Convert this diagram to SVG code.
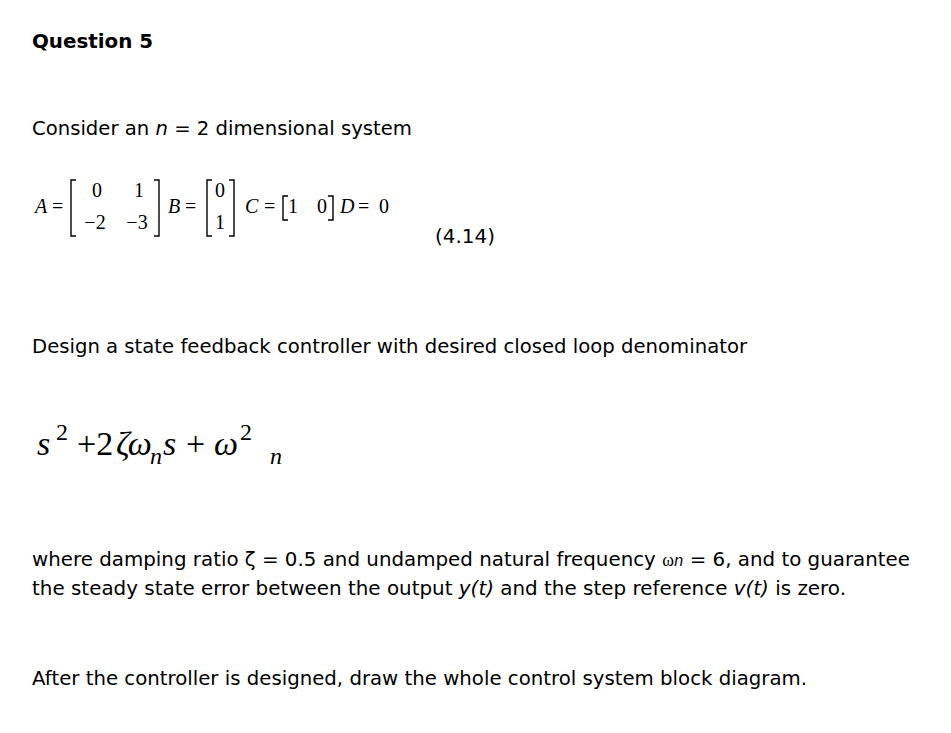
<svg xmlns="http://www.w3.org/2000/svg" width="951" height="733" viewBox="0 0 951 733">
<style>
.t{font-family:"DejaVu Sans","Liberation Sans",sans-serif;font-size:20px;fill:#000}
.m{font-family:"Liberation Serif",serif;font-size:20px;fill:#000}
.f{font-family:"Liberation Serif",serif;font-size:34px;fill:#000}
.s{font-family:"Liberation Serif",serif;font-size:24px;fill:#000}
.i{font-style:italic}
.br{fill:none;stroke:#000;stroke-width:1.4}
</style>
<rect width="951" height="733" fill="#fff"/>
<text class="t" x="32" y="48" font-weight="bold" textLength="121" lengthAdjust="spacingAndGlyphs">Question 5</text>
<text class="t" x="32" y="135" textLength="380" lengthAdjust="spacingAndGlyphs">Consider an <tspan class="i">n</tspan> = 2 dimensional system</text>
<g id="matrices">
<text class="m i" x="35" y="213">A</text><text class="m" x="52" y="213">=</text>
<path class="br" d="M76,180 H71 V236 H76 M154,180 H159 V236 H154"/>
<text class="m" x="97" y="197" text-anchor="middle">0</text>
<text class="m" x="139" y="197" text-anchor="middle">1</text>
<text class="m" x="95" y="229" text-anchor="middle">−2</text>
<text class="m" x="137" y="229" text-anchor="middle">−3</text>
<text class="m i" x="168" y="213">B</text><text class="m" x="185" y="213">=</text>
<path class="br" d="M212,180 H207 V236 H212 M229,180 H234 V236 H229"/>
<text class="m" x="220" y="197" text-anchor="middle">0</text>
<text class="m" x="220" y="229" text-anchor="middle">1</text>
<text class="m i" x="245" y="213">C</text><text class="m" x="264" y="213">=</text>
<path class="br" d="M288,196 H283 V220 H288 M328,196 H333 V220 H328"/>
<text class="m" x="293" y="213" text-anchor="middle">1</text>
<text class="m" x="322" y="213" text-anchor="middle">0</text>
<text class="m i" x="340" y="213">D</text><text class="m" x="358" y="213">=</text><text class="m" x="379" y="213">0</text>
</g>
<text class="t" x="435" y="243" textLength="60" lengthAdjust="spacingAndGlyphs">(4.14)</text>
<text class="t" x="32" y="353" textLength="715" lengthAdjust="spacingAndGlyphs">Design a state feedback controller with desired closed loop denominator</text>
<g id="formula">
<text class="f i" x="37" y="455">s</text>
<text class="s" x="56" y="440">2</text>
<text class="f" x="77" y="455">+2</text>
<text class="f i" x="116" y="455">ζω</text>
<text class="s i" x="150" y="464">n</text>
<text class="f i" x="163" y="455">s</text>
<text class="f" x="186" y="455">+</text>
<text class="f i" x="214" y="455">ω</text>
<text class="s" x="240" y="440">2</text>
<text class="s i" x="270" y="464">n</text>
</g>
<text class="t" x="32" y="566" textLength="878" lengthAdjust="spacingAndGlyphs">where damping ratio ζ = 0.5 and undamped natural frequency <tspan font-family="Liberation Serif" font-size="18">ω</tspan><tspan class="i" font-size="15">n</tspan>  = 6, and to guarantee</text>
<text class="t" x="32" y="595" textLength="814" lengthAdjust="spacingAndGlyphs">the steady state error between the output <tspan class="i">y(t)</tspan> and the step reference <tspan class="i">v(t)</tspan> is zero.</text>
<text class="t" x="32" y="685" textLength="775" lengthAdjust="spacingAndGlyphs">After the controller is designed, draw the whole control system block diagram.</text>
</svg>
